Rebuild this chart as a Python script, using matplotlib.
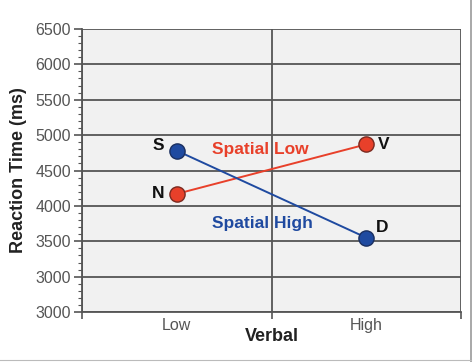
import matplotlib
matplotlib.use("Agg")
import matplotlib.pyplot as plt
from matplotlib.ticker import MultipleLocator, FixedLocator

plt.rcParams['font.family'] = ['Liberation Sans', 'DejaVu Sans']

# data
verbal_levels = ["Low", "High"]
spatial_low = [4170, 4870]     # N -> V
spatial_high = [4780, 3550]    # S -> D
low_point_labels = ["N", "V"]
high_point_labels = ["S", "D"]
ytick_values = [2500, 3000, 3500, 4000, 4500, 5000, 5500, 6000, 6500]
ytick_labels = ["3000", "3000", "3500", "4000", "4500", "5000", "5500", "6000", "6500"]

red = "#e8402a"
blue = "#1f4aa0"
grid_col = "#555555"
tick_col = "#555555"

fig = plt.figure(figsize=(4.74, 3.62), dpi=100)
ax = fig.add_axes([0.173, 0.138, 0.8, 0.782])
ax.set_facecolor("#f1f1f1")

xpos = [1, 3]
ax.set_xlim(0, 4)
ax.set_ylim(2500, 6500)

ax.yaxis.set_major_locator(FixedLocator(ytick_values))
ax.set_yticklabels(ytick_labels)
ax.yaxis.set_minor_locator(MultipleLocator(100))
ax.xaxis.set_major_locator(FixedLocator([0, 2, 4]))
ax.set_xticklabels([])
ax.xaxis.set_minor_locator(FixedLocator(xpos))
ax.set_xticklabels(verbal_levels, minor=True)

ax.grid(True, which="major", color=grid_col, linewidth=1.3)
ax.set_axisbelow(True)
for s in ax.spines.values():
    s.set_visible(False)
ax.spines["left"].set_visible(True)
ax.spines["bottom"].set_visible(True)
ax.spines["left"].set_color(grid_col)
ax.spines["bottom"].set_color(grid_col)
ax.spines["left"].set_linewidth(1.3)
ax.spines["bottom"].set_linewidth(1.3)

ax.tick_params(axis="y", which="major", length=6, width=1.2, color=grid_col,
               labelsize=11.5, labelcolor=tick_col, pad=2)
ax.tick_params(axis="y", which="minor", length=3, width=0.8, color=grid_col)
ax.tick_params(axis="x", which="major", length=5, width=1.2, color=grid_col, direction="out")
ax.tick_params(axis="x", which="minor", length=0, labelsize=11.5, labelcolor=tick_col, pad=4)

ax.plot(xpos, spatial_low, color=red, linewidth=1.4, zorder=3)
ax.plot(xpos, spatial_high, color=blue, linewidth=1.4, zorder=3)
ax.scatter(xpos, spatial_low, s=120, color=red, edgecolor="#7a2a20", linewidth=1.0, zorder=4)
ax.scatter(xpos, spatial_high, s=120, color=blue, edgecolor="#1a2f60", linewidth=1.0, zorder=4)

bold = dict(fontsize=12.5, fontweight="bold", color="#111111")
ax.text(0.8, spatial_high[0] + 70, high_point_labels[0], ha="center", va="center", **bold)
ax.text(0.8, spatial_low[0], low_point_labels[0], ha="center", va="center", **bold)
ax.text(3.18, spatial_low[1], low_point_labels[1], ha="center", va="center", **bold)
ax.text(3.17, spatial_high[1] + 140, high_point_labels[1], ha="center", va="center", **bold)

ax.text(1.88, 4790, "Spatial Low", color=red, fontsize=12.5, fontweight="bold",
        ha="center", va="center")
ax.text(1.9, 3750, "Spatial High", color=blue, fontsize=12.5, fontweight="bold",
        ha="center", va="center")

ax.set_ylabel("Reaction Time (ms)", fontsize=13, fontweight="bold", color="#222222", labelpad=6)
ax.set_xlabel("Verbal", fontsize=13, fontweight="bold", color="#222222", labelpad=-3)

# outer frame remnants
fig.add_artist(plt.Line2D([0.994, 0.994], [0.0, 1.0], color="#999999", linewidth=1.2,
                          transform=fig.transFigure))
fig.add_artist(plt.Line2D([0.0, 0.994], [0.006, 0.006], color="#bbbbbb", linewidth=0.8,
                          transform=fig.transFigure))

fig.savefig("out.png", dpi=100)
